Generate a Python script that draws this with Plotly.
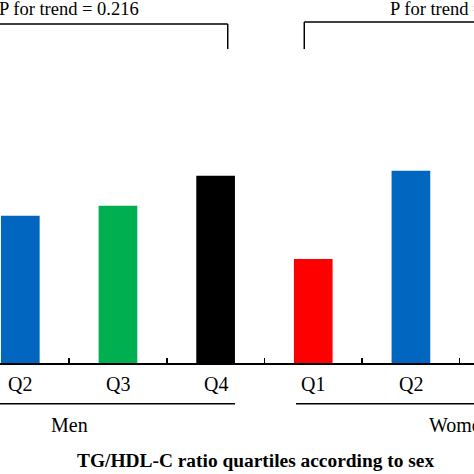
import plotly.graph_objects as go

# Visible categories (index within the full 8-category sequence Men Q1..Q4, Women Q1..Q4)
cat_index = [1, 2, 3, 4, 5]
cat_labels = ["Q2", "Q3", "Q4", "Q1", "Q2"]
values = [14.7, 15.7, 18.7, 10.4, 19.2]
colors = ["#0066C0", "#00B050", "#000000", "#FF0000", "#0066C0"]

group_names = ["Men", "Women"]
group_centers = [1.5, 5.5]
p_texts = ["P for trend = 0.216", "P for trend = 0.001"]
x_title = "TG/HDL-C ratio quartiles according to sex"

H = 362.6  # plot height in px


def py(px_from_top):
    return (H - px_from_top) / H


fig = go.Figure()
fig.add_trace(go.Bar(
    x=cat_index, y=values, width=0.396,
    marker=dict(color=colors, line=dict(width=0)),
    showlegend=False, hoverinfo="skip",
))

shapes = []
# men bracket
shapes.append(dict(type="line", xref="x", yref="paper", x0=-0.2, x1=3.124, y0=py(24), y1=py(24),
                   line=dict(color="black", width=1.5)))
shapes.append(dict(type="line", xref="x", yref="paper", x0=3.124, x1=3.124, y0=py(24), y1=py(49),
                   line=dict(color="black", width=1.5)))
# women bracket
shapes.append(dict(type="line", xref="x", yref="paper", x0=3.908, x1=7.5, y0=py(22), y1=py(22),
                   line=dict(color="black", width=1.5)))
shapes.append(dict(type="line", xref="x", yref="paper", x0=3.908, x1=3.908, y0=py(22), y1=py(49),
                   line=dict(color="black", width=1.5)))
# group underlines
shapes.append(dict(type="line", xref="x", yref="paper", x0=-0.3, x1=3.199, y0=py(403.3), y1=py(403.3),
                   line=dict(color="black", width=1.3)))
shapes.append(dict(type="line", xref="x", yref="paper", x0=3.823, x1=7.5, y0=py(403.3), y1=py(403.3),
                   line=dict(color="black", width=1.3)))

ann = []
serif = "Liberation Serif, Times New Roman, serif"
for i, lab in zip(cat_index, cat_labels):
    ann.append(dict(x=i, y=py(384), xref="x", yref="paper", text=lab, showarrow=False,
                    font=dict(family=serif, size=20, color="black"), yanchor="middle"))
for c, g in zip(group_centers, group_names):
    ann.append(dict(x=c, y=py(425), xref="x", yref="paper", text=g, showarrow=False,
                    font=dict(family=serif, size=20, color="black"), yanchor="middle"))
for c, t in zip(group_centers, p_texts):
    ann.append(dict(x=c, y=py(9), xref="x", yref="paper", text=t, showarrow=False,
                    font=dict(family=serif, size=18.5, color="black"), yanchor="middle"))
ann.append(dict(x=3.41, y=py(460), xref="x", yref="paper", text="<b>" + x_title + "</b>", showarrow=False,
                font=dict(family=serif, size=19.4, color="black"), yanchor="middle"))

fig.update_layout(
    width=474, height=474,
    margin=dict(l=0, r=0, t=0, b=474 - H),
    paper_bgcolor="white", plot_bgcolor="white",
    shapes=shapes, annotations=ann,
    xaxis=dict(range=[0.792, 5.646], showgrid=False, zeroline=False,
               showline=True, linecolor="black", linewidth=1.5,
               tickvals=[0.5, 1.5, 2.5, 3.5, 4.5, 5.5], ticks="inside", ticklen=5,
               tickcolor="black", tickwidth=1.5, showticklabels=False),
    yaxis=dict(range=[0, H / 10], visible=False),
)

fig.write_html("out.html", config={"displayModeBar": False, "staticPlot": True},
               post_script="document.body.style.margin='0';document.body.style.overflow='hidden';")
